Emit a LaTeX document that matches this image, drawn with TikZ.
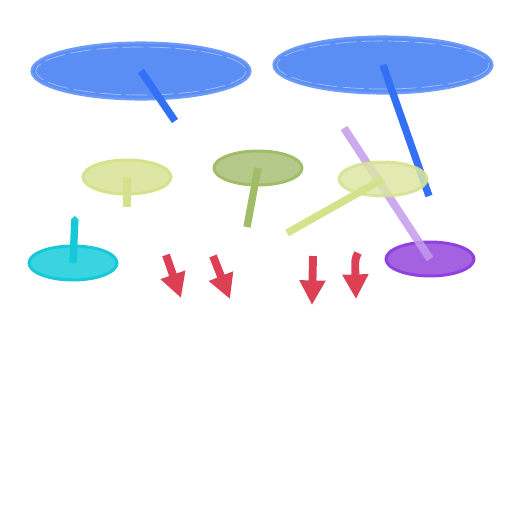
\documentclass[tikz,border=0pt]{standalone}
\usepackage{xcolor}
\usepackage{tikz}
\usetikzlibrary{arrows.meta, shapes.geometric, positioning}
\definecolor{blueFill}{RGB}{91,142,245}
\definecolor{blueEdge}{RGB}{110,155,245}
\definecolor{blueLine}{RGB}{51,112,245}
\definecolor{limeFill}{RGB}{221,230,165}
\definecolor{limeLine}{RGB}{212,226,140}
\definecolor{oliveFill}{RGB}{181,201,138}
\definecolor{oliveLine}{RGB}{162,189,104}
\definecolor{cyanFill}{RGB}{58,211,224}
\definecolor{cyanLine}{RGB}{22,200,216}
\definecolor{purpleFill}{RGB}{164,97,224}
\definecolor{purpleLine}{RGB}{144,66,224}
\definecolor{lilacLine}{RGB}{196,154,236}
\definecolor{redArrow}{RGB}{220,64,85}

\begin{document}
\begin{tikzpicture}[
        x=0.02cm, y=-0.02cm,
        bigpad/.style={ellipse, draw=blueEdge, line width=1.2pt, fill=blueFill, inner sep=0pt, minimum width=4.38cm, minimum height=1.14cm},
        pad/.style={ellipse, line width=1.7pt, inner sep=0pt, minimum width=1.76cm, minimum height=0.68cm},
        stem/.style={line width=4.2pt},
        push/.style={-{Triangle[width=14pt, length=14pt]}, line width=4.5pt, redArrow}
    ]
        \useasboundingbox (0,0) rectangle (512,512);

        % large pads
        \node[bigpad] (blueL) at (141,71) {};
        \node[bigpad] (blueR) at (383,65) {};
        \draw[white, dash pattern=on 12pt off 3pt, thin, opacity=0.45] (blueL.center) ellipse (105 and 24);
        \draw[white, dash pattern=on 12pt off 3pt, thin, opacity=0.45] (blueR.center) ellipse (106 and 24);

        % small pads
        \node[pad, draw=limeLine, fill=limeFill] (limeL) at (127,177) {};
        \node[pad, draw=oliveLine, fill=oliveFill] (olive) at (258,168) {};
        \node[pad, draw=cyanLine, fill=cyanFill] (cyan) at (73,263) {};
        \node[pad, draw=purpleLine, fill=purpleFill] (purple) at (430,259) {};

        % stem ends
        \coordinate (blueLEnd) at (175,121);
        \coordinate (blueREnd) at (429,196);
        \coordinate (limeLEnd) at (127,207);
        \coordinate (cyanEnd) at (75,216);
        \coordinate (oliveEnd) at (247,227);
        \coordinate (limeREnd) at (287,233);
        \coordinate (lilacEnd) at (344,128);

        \draw[stem, blueLine] (blueL.center) -- (blueLEnd);
        \draw[stem, blueLine] (blueR.center) -- (blueREnd);
        \draw[stem, limeLine] (limeL.center) -- (limeLEnd);
        \draw[stem, cyanLine, -{Triangle[width=4pt, length=2pt]}] (cyan.center) -- (cyanEnd);
        \draw[stem, oliveLine] (olive.center) -- (oliveEnd);
        \draw[stem, lilacLine, line width=4.5pt, opacity=0.85] (purple.center) -- (lilacEnd);

        \node[pad, draw=limeLine, fill=limeFill, opacity=0.85] (limeR) at (383,179) {};
        \draw[stem, limeLine] (limeR.center) -- (limeREnd);

        % red arrows
        \coordinate (p1) at (166,255);
        \coordinate (q1) at (181,298);
        \coordinate (p2) at (213,256);
        \coordinate (q2) at (230,299);
        \coordinate (p3) at (313,256);
        \coordinate (q3) at (312,305);
        \coordinate (p4) at (358,253);
        \coordinate (q4) at (356,299);

        \draw[push] (p1) -- (q1);
        \draw[push] (p2) -- (q2);
        \draw[push] (p3) -- (q3);
        \draw[push] (p4) .. controls (355,259) .. (q4);
    \end{tikzpicture}
\end{document}
